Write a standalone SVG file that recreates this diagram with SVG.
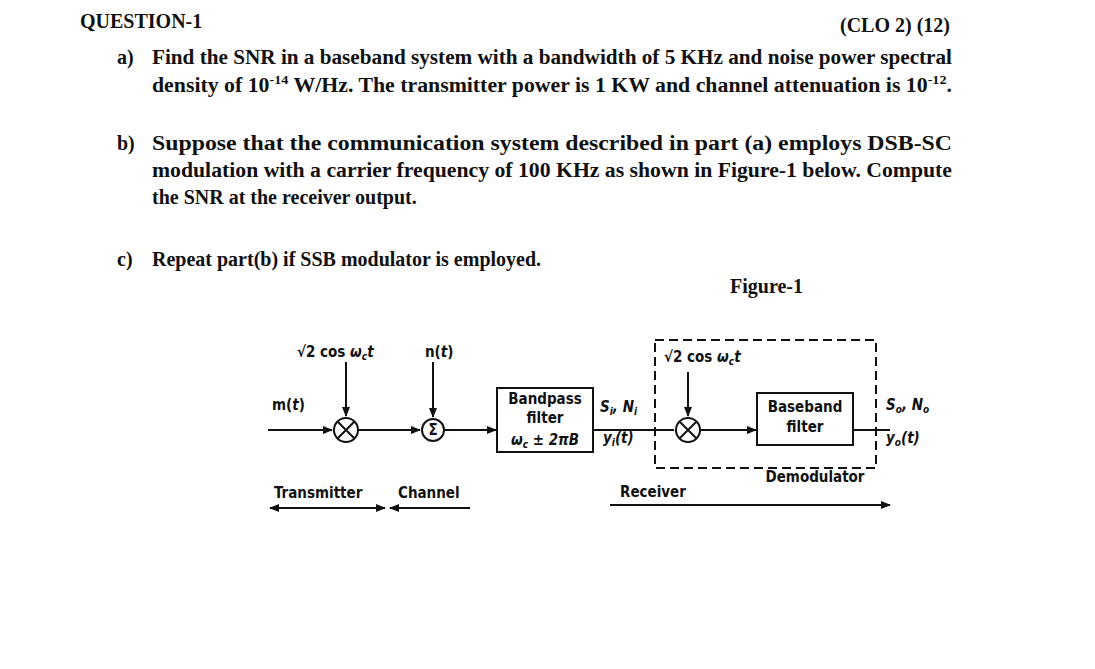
<svg xmlns="http://www.w3.org/2000/svg" width="1095" height="669" viewBox="0 0 1095 669">
<defs>
<marker id="ah" markerWidth="10" markerHeight="8" refX="9" refY="4" orient="auto-start-reverse" markerUnits="userSpaceOnUse"><path d="M0,0 L10,4 L0,8 z" fill="#111"/></marker>
</defs>
<style>
.q{font-family:"Liberation Serif",serif;font-weight:bold;font-size:20px;fill:#111}
.d{font-family:"DejaVu Sans Condensed","DejaVu Sans",sans-serif;font-weight:bold;font-size:15px;fill:#111}
.l{stroke:#111;stroke-width:2;fill:none}
.b{stroke:#111;stroke-width:2;fill:#fff}
</style>
<rect width="1095" height="669" fill="#fff"/>
<text class="q" x="80" y="28">QUESTION-1</text>
<text class="q" x="950" y="32" text-anchor="end">(CLO 2) (12)</text>
<text class="q" x="117" y="64">a)</text>
<text class="q" x="152" y="64" textLength="800" lengthAdjust="spacingAndGlyphs">Find the SNR in a baseband system with a bandwidth of 5 KHz and noise power spectral</text>
<text class="q" x="152" y="92" textLength="800" lengthAdjust="spacingAndGlyphs">density of 10<tspan font-size="13" dy="-8">-14</tspan><tspan dy="8"> W/Hz. The transmitter power is 1 KW and channel attenuation is 10</tspan><tspan font-size="13" dy="-8">-12</tspan><tspan dy="8">.</tspan></text>
<text class="q" x="117" y="150">b)</text>
<text class="q" x="152" y="150" textLength="800" lengthAdjust="spacingAndGlyphs">Suppose that the communication system described in part (a) employs DSB-SC</text>
<text class="q" x="152" y="177" textLength="800" lengthAdjust="spacingAndGlyphs">modulation with a carrier frequency of 100 KHz as shown in Figure-1 below. Compute</text>
<text class="q" x="152" y="204">the SNR at the receiver output.</text>
<text class="q" x="117" y="266">c)</text>
<text class="q" x="152" y="266">Repeat part(b) if SSB modulator is employed.</text>
<text class="q" x="730" y="293">Figure-1</text>

<g id="connectors">
<line class="l" x1="268" y1="430" x2="332" y2="430" marker-end="url(#ah)"/>
<line class="l" x1="358" y1="430" x2="420" y2="430" marker-end="url(#ah)"/>
<line class="l" x1="444" y1="430" x2="496" y2="430" marker-end="url(#ah)"/>
<line class="l" x1="593" y1="430" x2="674" y2="430"/>
<line class="l" x1="700" y1="430" x2="756" y2="430" marker-end="url(#ah)"/>
<line class="l" x1="853" y1="430" x2="890" y2="430"/>
<line class="l" x1="346" y1="362" x2="346" y2="416" marker-end="url(#ah)"/>
<line class="l" x1="433" y1="362" x2="433" y2="417" marker-end="url(#ah)"/>
<line class="l" x1="688" y1="372" x2="688" y2="416" marker-end="url(#ah)"/>
<line class="l" x1="270" y1="508" x2="385" y2="508" marker-start="url(#ah)" marker-end="url(#ah)"/>
<line class="l" x1="390" y1="508" x2="470" y2="508" marker-start="url(#ah)"/>
<line class="l" x1="610" y1="505" x2="890" y2="505" marker-end="url(#ah)"/>
</g>
<g id="mixer1"><circle class="b" cx="346" cy="430" r="12"/><path class="l" d="M338,422 L354,438 M354,422 L338,438"/></g>
<g id="sum"><circle class="b" cx="433" cy="430" r="11"/><text class="d" x="433" y="435" text-anchor="middle" font-size="13">Σ</text></g>
<g id="bpf"><rect class="b" x="497" y="388" width="96" height="64"/>
<text class="d" x="545" y="404" text-anchor="middle">Bandpass</text>
<text class="d" x="545" y="423" text-anchor="middle">filter</text>
<text class="d" x="545" y="445" text-anchor="middle" font-style="italic">ω<tspan font-size="10" dy="3">c</tspan><tspan dy="-3"> ± 2πB</tspan></text></g>
<g id="demod"><rect x="655" y="340" width="221" height="128" fill="none" stroke="#111" stroke-width="2" stroke-dasharray="9,5"/>
<text class="d" x="815" y="482" text-anchor="middle">Demodulator</text></g>
<g id="mixer2"><circle class="b" cx="688" cy="430" r="12"/><path class="l" d="M680,422 L696,438 M696,422 L680,438"/></g>
<g id="lpf"><rect class="b" x="757" y="393" width="96" height="52"/>
<text class="d" x="805" y="412" text-anchor="middle">Baseband</text>
<text class="d" x="805" y="432" text-anchor="middle">filter</text></g>
<text class="d" x="297" y="357">√2 cos <tspan font-style="italic">ω<tspan font-size="10" dy="3">c</tspan><tspan dy="-3">t</tspan></tspan></text>
<text class="d" x="425" y="357">n(<tspan font-style="italic">t</tspan>)</text>
<text class="d" x="664" y="362">√2 cos <tspan font-style="italic">ω<tspan font-size="10" dy="3">c</tspan><tspan dy="-3">t</tspan></tspan></text>
<text class="d" x="272" y="410">m(<tspan font-style="italic">t</tspan>)</text>
<text class="d" x="600" y="412" font-style="italic">S<tspan font-size="10" dy="3">i</tspan><tspan dy="-3">, N</tspan><tspan font-size="10" dy="3">i</tspan></text>
<text class="d" x="603" y="443" font-style="italic">y<tspan font-size="10" dy="3">i</tspan><tspan dy="-3">(t)</tspan></text>
<text class="d" x="886" y="410" font-style="italic">S<tspan font-size="10" dy="3">o</tspan><tspan dy="-3">, N</tspan><tspan font-size="10" dy="3">o</tspan></text>
<text class="d" x="886" y="443" font-style="italic">y<tspan font-size="10" dy="3">o</tspan><tspan dy="-3">(t)</tspan></text>
<text class="d" x="274" y="498" font-size="16">Transmitter</text>
<text class="d" x="398" y="498" font-size="16">Channel</text>
<text class="d" x="620" y="497" font-size="16">Receiver</text>
</svg>
